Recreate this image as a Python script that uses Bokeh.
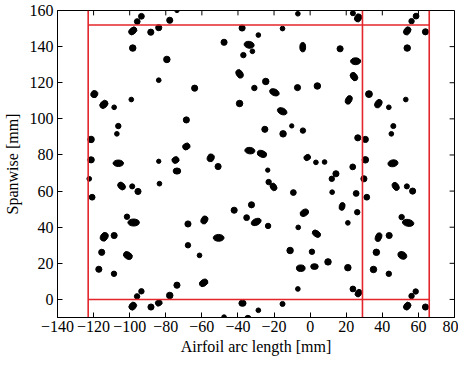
from bokeh.plotting import figure
from bokeh.models import ColumnDataSource, FixedTicker, CustomJSTickFormatter, Range1d
from bokeh.embed import file_html
from bokeh.resources import INLINE

# particle centres [mm], ellipse sizes [mm], orientation [deg]
px = [-93.5, -95.8, -98.3, -88.3, -83.9, -77.8, -73.8, -98.3, -79.4, -47.7,
      -83.9, -64.0, -119.6, -114.3, -108.6, -99.1, -68.6, -106.3, -107.1, -121.4,
      -68.6, -55.1, -51.0, -74.6, -73.8, -83.9, -106.3, -121.4, -122.4, -104.5,
      -98.6, -95.4, -83.5, -120.8, -101.5, -97.8, -114.1, -108.6, -115.5, -101.0,
      -117.1, -108.7, -67.7, -58.6, -67.7, -61.3, -50.7, -42.1, -59.0, -73.8,
      -77.8, -93.5, -95.9, -98.3, -88.2, -83.9, -47.7, -6.8, 23.7, 26.6,
      -37.7, -15.3, -28.7, -33.8, -32.0, -37.0, -4.1, 16.6, 25.2, 53.8,
      56.2, 58.7, 63.9, 53.8, -39.1, -24.6, -30.9, -19.8, -7.0, 4.0,
      24.3, -39.1, -15.5, 21.4, 32.6, 37.8, 43.6, 53.0, -25.1, -15.0,
      -10.2, -4.0, 26.4, 30.6, 46.1, 45.0, -33.4, -26.7, -23.5, -1.6,
      3.2, 8.0, 23.6, 30.6, 45.9, 14.3, 12.0, 29.8, -23.0, -20.3,
      -9.3, 12.2, 25.5, 31.4, 47.4, 53.6, 56.8, 17.7, 26.1, 20.9,
      -3.2, -6.6, 3.5, -32.5, -35.2, -29.9, -23.3, -11.1, 1.0, -5.2,
      2.4, 9.9, 20.9, -6.8, 23.7, 26.8, -37.5, -28.7, -15.3, -34.5,
      37.9, 43.8, 50.7, 54.3, 36.7, 51.1, 35.1, 43.6, 58.5, 56.2,
      53.8, 63.9]
py = [156.8, 153.9, 148.7, 148.0, 150.5, 154.6, 160.0, 139.2, 132.9, 142.4,
      121.4, 117.0, 113.7, 108.0, 106.4, 110.7, 99.4, 96.0, 91.7, 88.6,
      84.7, 78.4, 73.6, 77.2, 71.1, 76.5, 75.4, 77.3, 66.8, 62.8,
      62.6, 59.8, 64.1, 56.6, 45.8, 42.6, 34.7, 35.4, 26.1, 24.3,
      16.7, 14.2, 41.8, 44.0, 30.0, 24.4, 34.1, 49.4, 9.2, 7.9,
      2.2, 4.5, 1.7, -3.7, -4.2, -1.9, -9.8, 158.2, 158.5, 155.9,
      150.3, 150.0, 146.4, 141.0, 137.4, 135.3, 139.7, 138.8, 131.9, 148.7,
      154.1, 156.9, 148.2, 139.2, 124.9, 120.7, 117.1, 114.7, 117.3, 118.2,
      123.4, 108.5, 104.2, 110.5, 113.7, 108.4, 106.4, 110.7, 94.2, 91.7,
      96.1, 93.5, 89.5, 88.6, 96.0, 91.7, 82.4, 80.6, 71.6, 78.6,
      75.9, 76.1, 73.4, 77.3, 75.4, 69.6, 66.8, 66.8, 65.0, 62.3,
      59.2, 59.4, 58.7, 56.6, 62.6, 62.6, 60.0, 51.5, 48.3, 42.4,
      48.0, 39.9, 36.4, 52.4, 45.3, 42.9, 40.7, 27.1, 26.4, 17.3,
      18.2, 20.8, 17.6, 5.8, 5.8, 3.5, -2.1, -6.0, -2.5, -10.5,
      34.5, 35.4, 45.6, 42.4, 26.1, 24.4, 16.6, 14.2, 4.4, 1.9,
      -3.7, -4.2]
pw = [3.2, 3.2, 5.0, 3.4, 3.4, 3.4, 2.4, 3.6, 3.6, 3.4,
      2.6, 3.4, 4.0, 5.0, 2.6, 2.6, 3.4, 3.0, 2.6, 3.6,
      4.2, 4.4, 3.4, 4.0, 4.2, 2.4, 5.8, 3.6, 2.6, 4.8,
      2.8, 3.4, 2.6, 3.2, 3.0, 6.4, 5.0, 3.4, 3.4, 5.2,
      3.4, 3.0, 3.4, 4.6, 3.0, 2.6, 6.0, 3.4, 5.0, 3.4,
      3.6, 3.0, 3.0, 4.6, 3.4, 3.8, 2.6, 2.6, 2.8, 4.6,
      3.4, 2.6, 2.6, 5.6, 2.6, 3.0, 5.2, 3.4, 5.6, 4.8,
      3.0, 3.2, 3.4, 3.6, 5.0, 3.6, 3.0, 5.6, 3.4, 3.6,
      5.0, 3.6, 5.6, 5.0, 3.8, 5.0, 2.6, 2.6, 3.4, 3.6,
      2.4, 3.0, 3.4, 3.4, 2.8, 2.6, 5.6, 5.4, 2.4, 3.8,
      2.6, 2.6, 3.2, 3.6, 5.6, 3.4, 3.0, 3.4, 3.0, 4.4,
      3.2, 2.6, 3.2, 3.2, 4.8, 2.8, 3.4, 4.4, 3.0, 2.6,
      5.0, 2.6, 5.0, 3.4, 3.2, 5.8, 3.0, 3.6, 3.0, 4.8,
      4.2, 3.6, 3.6, 2.6, 3.2, 4.4, 4.0, 2.6, 2.8, 3.4,
      5.0, 3.4, 3.0, 6.4, 3.6, 5.2, 3.6, 3.0, 3.0, 3.0,
      4.6, 3.4]
ph = [3.2, 3.2, 3.6, 3.4, 3.4, 3.4, 2.4, 3.6, 3.6, 3.4,
      2.6, 3.4, 3.8, 3.8, 2.6, 2.6, 3.4, 3.0, 2.6, 3.6,
      3.6, 3.8, 3.4, 3.6, 3.4, 2.4, 3.6, 3.4, 2.6, 3.6,
      2.8, 3.4, 2.6, 3.2, 3.0, 3.9, 4.0, 3.4, 3.4, 3.8,
      3.4, 3.0, 3.4, 3.6, 3.0, 2.6, 3.8, 3.4, 3.6, 3.4,
      3.6, 3.0, 3.0, 3.8, 3.4, 3.4, 2.6, 2.6, 2.8, 3.8,
      3.4, 2.6, 2.6, 3.8, 2.6, 3.0, 3.2, 3.4, 3.8, 3.6,
      3.0, 3.2, 3.4, 3.6, 3.6, 3.6, 3.0, 3.6, 3.4, 3.6,
      3.6, 3.6, 3.6, 3.4, 3.8, 3.6, 2.6, 2.6, 3.4, 3.6,
      2.4, 3.0, 3.4, 3.4, 2.8, 2.6, 3.6, 3.6, 2.4, 3.2,
      2.6, 2.6, 3.2, 3.6, 3.8, 3.4, 3.0, 3.4, 3.0, 3.4,
      3.2, 2.6, 3.2, 3.2, 3.4, 2.8, 3.4, 3.2, 3.0, 2.6,
      3.6, 2.6, 3.4, 3.4, 3.2, 3.6, 3.0, 3.6, 3.0, 3.6,
      3.2, 3.6, 3.6, 2.6, 3.2, 3.4, 3.4, 2.6, 2.8, 3.4,
      3.4, 3.4, 3.0, 3.8, 3.6, 4.0, 3.6, 3.0, 3.0, 3.0,
      3.6, 3.4]
pa = [0, 0, 40, 0, 0, 0, 0, 0, 0, 0,
      0, 0, 70, 45, 0, 0, 0, 0, 0, 0,
      30, 70, 0, 30, 0, 0, 0, 0, 0, -45,
      0, 0, 0, 0, 0, 0, 60, 0, 0, -30,
      0, 0, 0, 65, 0, 0, 0, 0, 30, 0,
      0, 0, 0, 50, 0, 30, 0, 0, 0, 60,
      0, 0, 0, -10, 0, 0, 90, 0, 0, 55,
      0, 0, 0, 0, -60, 0, 0, -25, 0, 0,
      -55, 0, -25, 65, 0, 60, 0, 0, 0, 0,
      0, 0, 0, 0, 0, 0, -5, -20, 0, 30,
      0, 0, 0, 0, 10, 0, 0, 0, 0, -55,
      0, 0, 0, 0, -60, 0, 0, 75, 0, 0,
      30, 0, -35, 0, 0, 25, 0, 0, 0, 0,
      0, 0, 0, 0, 0, 60, 0, 0, 0, 0,
      70, 0, 0, -10, 0, -30, 0, 0, 0, 0,
      50, 0]

# red window lines
vline_x = [-123, 29, 66]
hline_y = [0, 152]
x_lo, x_hi = -123, 66

x_ticks = [-140, -120, -100, -80, -60, -40, -20, 0, 20, 40, 60, 80]
y_ticks = [0, 20, 40, 60, 80, 100, 120, 140, 160]
X_MIN, X_MAX, Y_MIN, Y_MAX = -140, 80, -10, 160
TICK_DX, TICK_DY = 2.7, 2.7   # inward tick length on mirrored edges (data units)

FONT = "Liberation Serif"

p = figure(width=458, height=357, output_backend="svg", toolbar_location=None,
           x_range=Range1d(X_MIN, X_MAX), y_range=Range1d(Y_MIN, Y_MAX),
           min_border_left=46, min_border_right=4, min_border_top=10, min_border_bottom=10)
p.grid.visible = False
p.outline_line_color = "black"
p.outline_line_width = 1
p.background_fill_color = "white"

src = ColumnDataSource(dict(x=px, y=py, w=pw, h=ph, a=pa))
p.ellipse(x="x", y="y", width="w", height="h", angle="a", angle_units="deg",
          source=src, fill_color="black", line_color="black", line_width=1)

red = "#e3262b"
p.segment(x0=vline_x, y0=[Y_MIN] * len(vline_x), x1=vline_x, y1=[Y_MAX] * len(vline_x),
          line_color=red, line_width=1.6)
p.segment(x0=[x_lo] * len(hline_y), y0=hline_y, x1=[x_hi] * len(hline_y), y1=hline_y,
          line_color=red, line_width=1.6)

# mirrored inward ticks on the top and right edges
p.segment(x0=x_ticks, y0=[Y_MAX] * len(x_ticks), x1=x_ticks, y1=[Y_MAX - TICK_DY] * len(x_ticks),
          line_color="black", line_width=1)
p.segment(x0=[X_MAX] * len(y_ticks), y0=y_ticks, x1=[X_MAX - TICK_DX] * len(y_ticks), y1=y_ticks,
          line_color="black", line_width=1)

fmt = CustomJSTickFormatter(code="return tick < 0 ? '\u2212' + Math.abs(tick) : String(tick);")

p.xaxis.ticker = FixedTicker(ticks=x_ticks)
p.yaxis.ticker = FixedTicker(ticks=y_ticks)
for ax in (p.xaxis[0], p.yaxis[0]):
    ax.formatter = fmt
    ax.major_tick_in = 5
    ax.major_tick_out = 0
    ax.minor_tick_line_color = None
    ax.axis_line_color = "black"
    ax.major_label_text_font = FONT
    ax.major_label_text_font_size = "16px"
    ax.major_label_text_color = "black"
    ax.axis_label_text_font = FONT
    ax.axis_label_text_font_size = "16px"
    ax.axis_label_text_font_style = "normal"
    ax.axis_label_text_color = "black"
p.xaxis.axis_label = "Airfoil arc length [mm]"
p.yaxis.axis_label = "Spanwise [mm]"
p.xaxis.major_label_standoff = 3
p.yaxis.major_label_standoff = 4
p.xaxis.axis_label_standoff = 3
p.yaxis.axis_label_standoff = 6

open("out.html", "w").write(file_html(p, INLINE))
